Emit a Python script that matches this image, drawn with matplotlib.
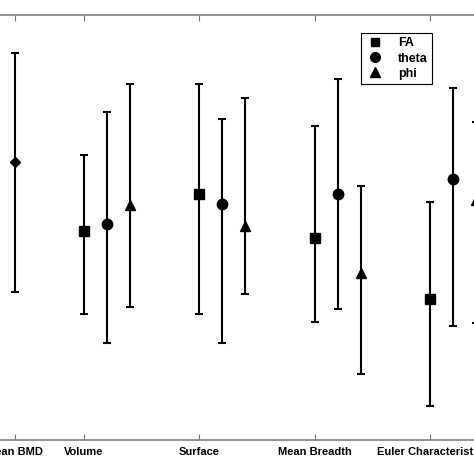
import matplotlib.pyplot as plt
from matplotlib.lines import Line2D

plt.rcParams["font.family"] = ["Liberation Sans", "DejaVu Sans"]

categories = ["Mean BMD", "Volume", "Surface", "Mean Breadth", "Euler Characteristic"]
cat_pos = [0.4, 1, 2, 3, 4]

# Mean BMD (single measure)
bmd_mean = 0.654
bmd_low = 0.348
bmd_high = 0.911

# Volume, Surface, Mean Breadth, Euler Characteristic
fa_mean = [0.492, 0.579, 0.475, 0.332]
fa_low = [0.296, 0.296, 0.278, 0.080]
fa_high = [0.671, 0.838, 0.739, 0.560]

theta_mean = [0.508, 0.555, 0.579, 0.614]
theta_low = [0.228, 0.228, 0.308, 0.268]
theta_high = [0.772, 0.755, 0.849, 0.828]

phi_mean = [0.553, 0.504, 0.393, 0.565]
phi_low = [0.313, 0.344, 0.155, 0.275]
phi_high = [0.838, 0.805, 0.598, 0.748]

fig = plt.figure(figsize=(4.74, 4.74), dpi=100)
# axes wider than the figure: the original picture is a crop
ax = fig.add_axes([-100 / 474, 1 - 440 / 474, 674 / 474, 425 / 474])

err_kw = dict(color="k", ecolor="k", elinewidth=1.5, capsize=2.6, capthick=1.5,
              linestyle="none", clip_on=False)

ax.errorbar([cat_pos[0]], [bmd_mean],
            yerr=[[bmd_mean - bmd_low], [bmd_high - bmd_mean]],
            marker="D", markersize=5, **err_kw)

series = [
    (fa_mean, fa_low, fa_high, "s", 6.5, 0.0, "FA"),
    (theta_mean, theta_low, theta_high, "o", 7.5, 0.2, "theta"),
    (phi_mean, phi_low, phi_high, "^", 7.5, 0.4, "phi"),
]
handles = []
for mean, low, high, mk, ms, off, lab in series:
    xs = [p + off for p in cat_pos[1:]]
    yerr = [[m - l for m, l in zip(mean, low)], [h - m for m, h in zip(mean, high)]]
    ax.errorbar(xs, mean, yerr=yerr, marker=mk, markersize=ms, **err_kw)
    handles.append(Line2D([], [], color="k", marker=mk, markersize=ms - 0.5,
                          linestyle="none", label=lab))

ax.set_xlim(-0.596, 5.25)
ax.set_ylim(0, 1)
ax.set_xticks(cat_pos)
ax.set_xticklabels(categories, fontsize=8, fontweight="bold")
ax.tick_params(axis="x", direction="in", top=True, length=4, color="#777777", pad=5)
ax.set_yticks([])
for s in ax.spines.values():
    s.set_color("#808080")
    s.set_linewidth(1.2)

leg = ax.legend(handles=handles, loc="upper left",
                bbox_to_anchor=(361 / 474, 1 - 33 / 474),
                bbox_transform=fig.transFigure, borderaxespad=0,
                prop={"size": 9, "weight": "bold"}, fancybox=False,
                framealpha=1, edgecolor="k", handlelength=1.6,
                handletextpad=1.0, labelspacing=0.25, borderpad=0.35)
leg.get_frame().set_linewidth(0.8)

fig.savefig("out.png", dpi=100)
